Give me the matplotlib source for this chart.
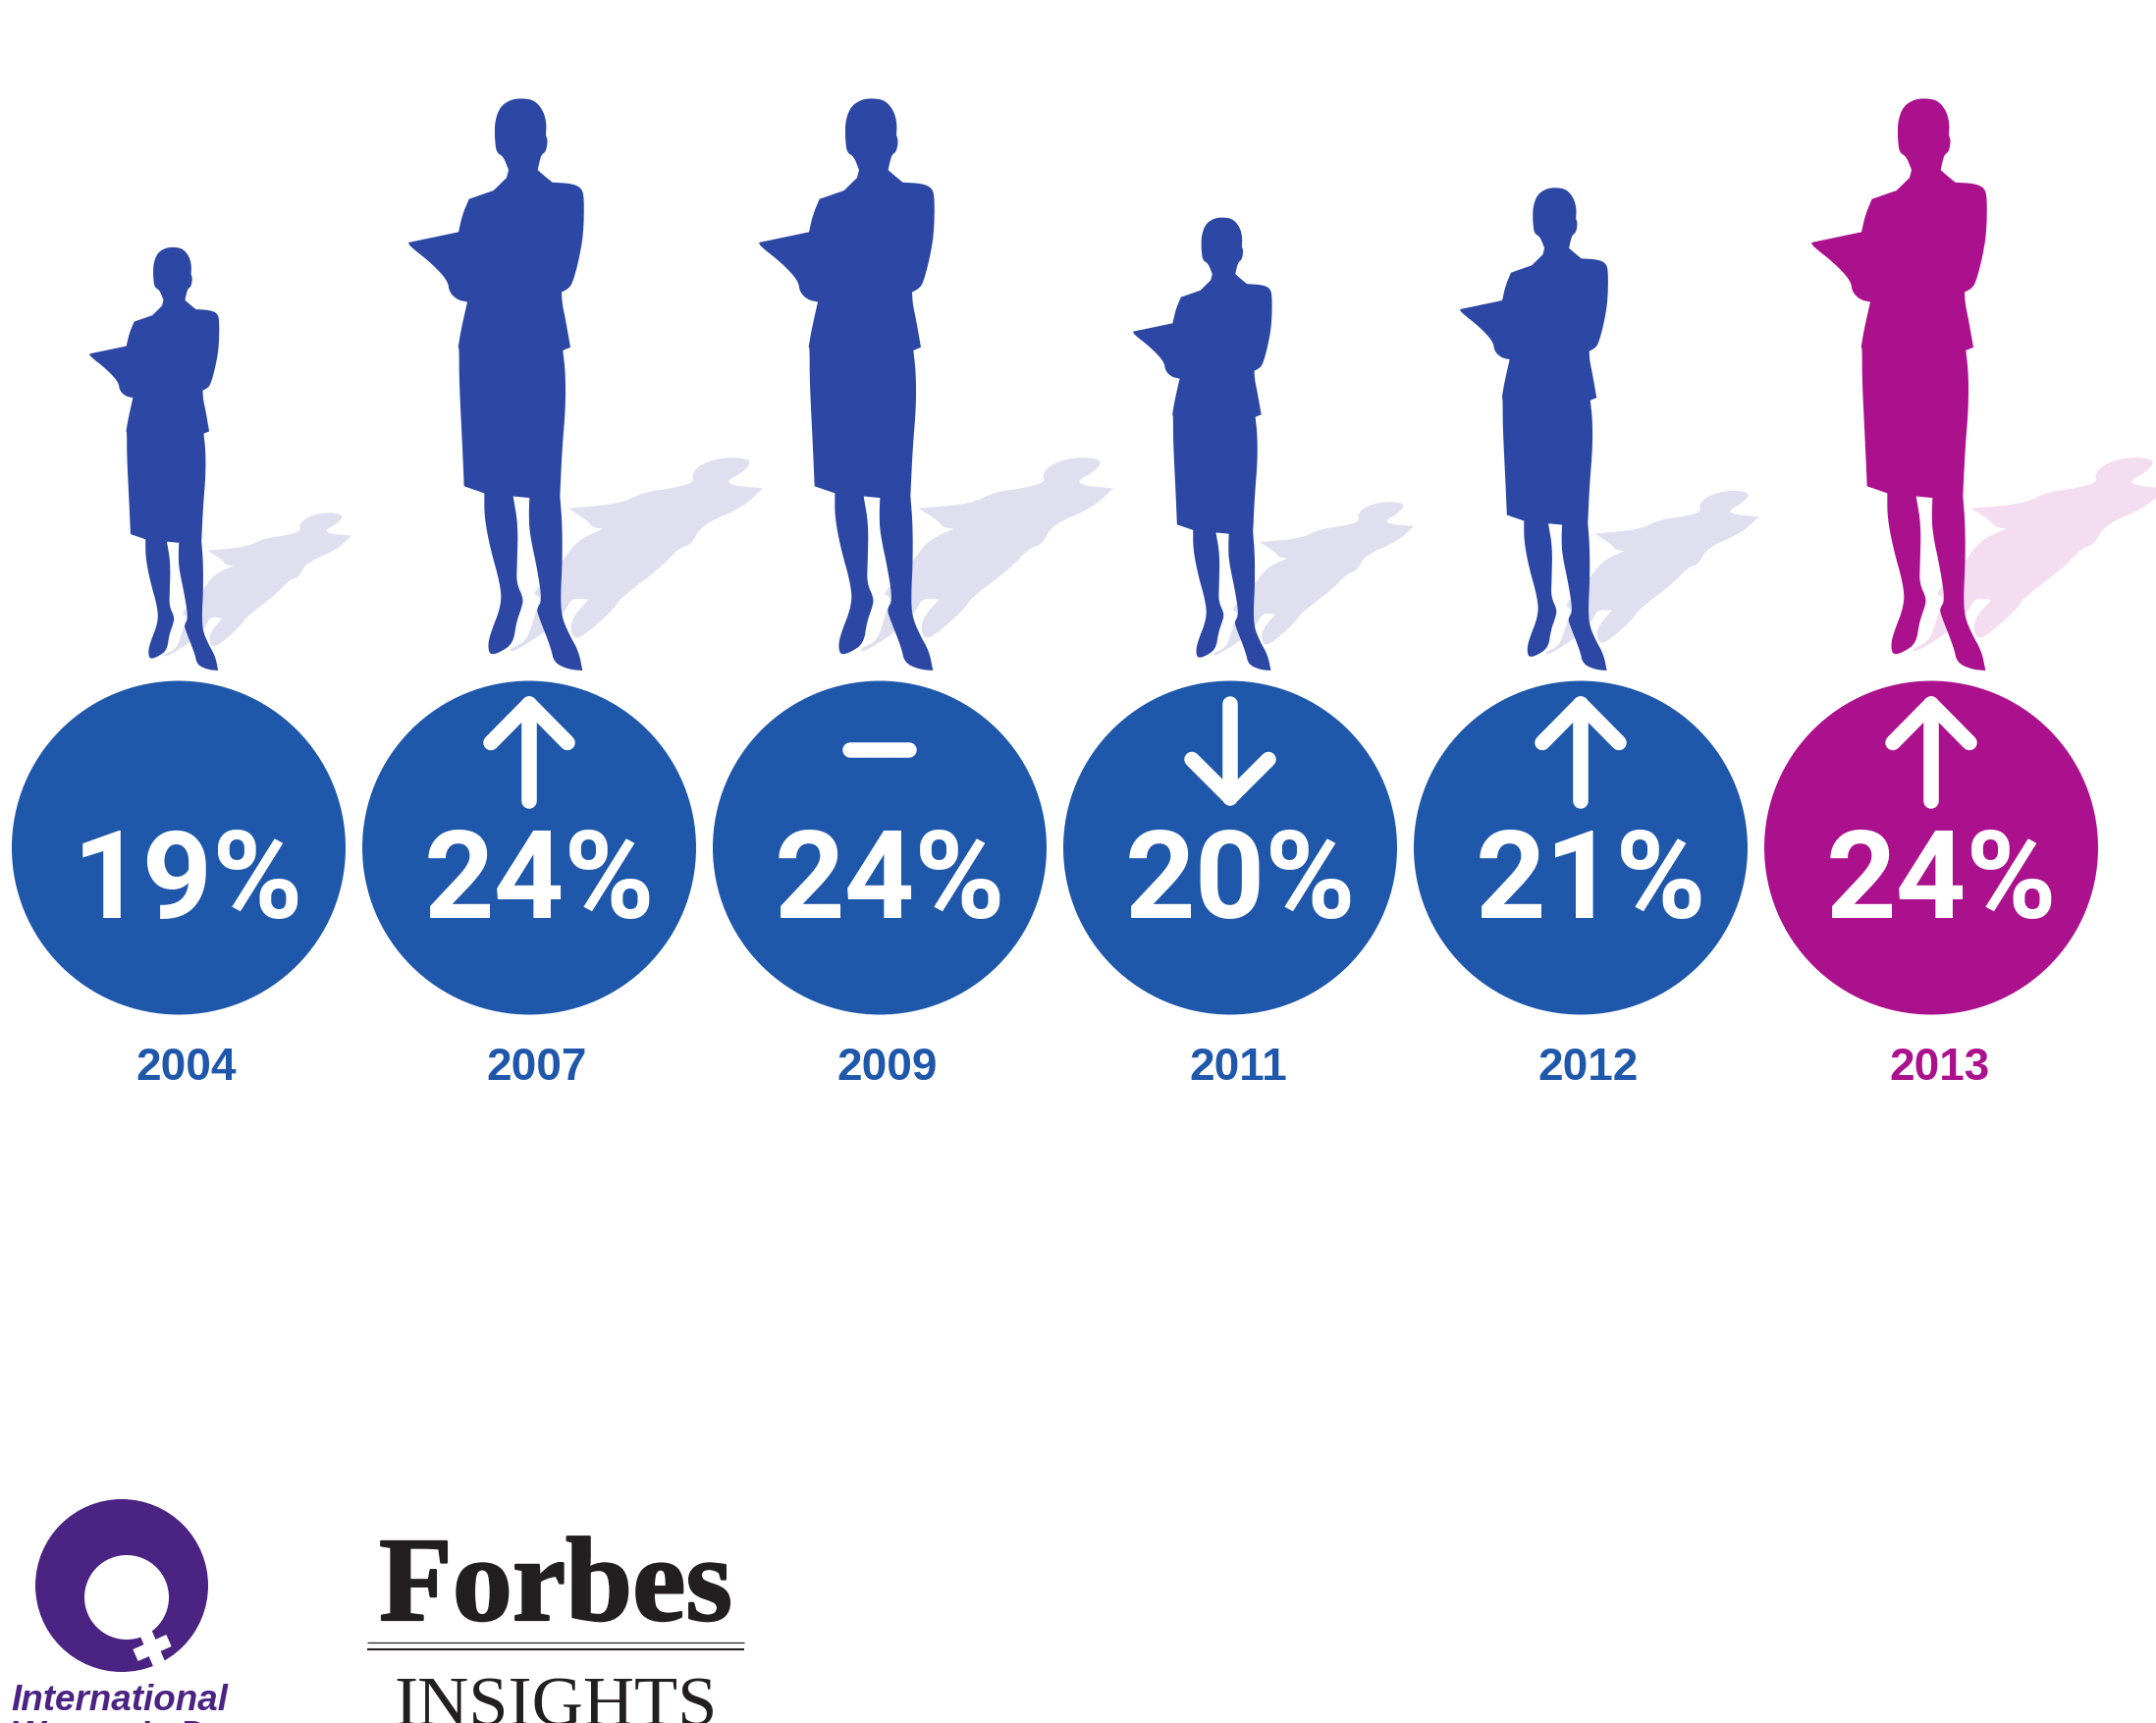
import numpy as np
import matplotlib
matplotlib.use('Agg')
import matplotlib.pyplot as plt
from matplotlib.patches import Circle, Polygon
import matplotlib.patheffects as pe

years = ['2004', '2007', '2009', '2011', '2012', '2013']
percents = [19, 24, 24, 20, 21, 24]

BLUE = '#1f58ab'
FIGURE_BLUE = '#2c47a4'
SHADOW_BLUE = '#dfdff0'
MAGENTA = '#ab118d'
SHADOW_MAGENTA = '#f4ddf0'
PURPLE = '#4b2382'
INK = '#231f20'

# circle layout in pixels, figure left edge for each year
centers_x = [182, 539, 896, 1253, 1610, 1967]
center_y = 863.5
radius = 170
figure_left = [91, 416, 773, 1154, 1487, 1845]
feet_y = 683

# woman outline, traced at 3x / 2.53x from the 2007 figure
# repeated points keep a corner sharp after smoothing
woman = np.array([
    (455, 50), (495, 55), (522, 82), (532, 115), (530, 145), (530, 145), (536, 160), (530, 188), (517, 195),
    (510, 215), (505, 235), (505, 235), (525, 250), (550, 267), (550, 267), (610, 270), (640, 282), (647, 310), (645, 400),
    (630, 470), (612, 525), (600, 540), (578, 550), (578, 550), (580, 580), (590, 620), (605, 692), (605, 692), (582, 700), (582, 700),
    (590, 760), (590, 850), (580, 950), (573, 1075), (573, 1075), (580, 1150), (580, 1250), (575, 1330), (578, 1385),
    (600, 1430), (630, 1475), (642, 1525), (642, 1525), (600, 1522), (555, 1505), (545, 1465), (505, 1380), (503, 1365),
    (518, 1345), (505, 1270), (480, 1170), (478, 1120), (480, 1080), (480, 1080), (430, 1076), (430, 1076), (445, 1150), (442, 1250),
    (440, 1300), (462, 1340), (455, 1365), (440, 1400), (430, 1455), (390, 1478), (360, 1485), (353, 1465),
    (358, 1435), (395, 1355), (390, 1300), (360, 1210), (342, 1130), (342, 1068), (342, 1068), (280, 1050), (280, 1050), (275, 950),
    (265, 780), (265, 695), (262, 692), (262, 692), (270, 650), (290, 575), (290, 575), (260, 570), (235, 550), (230, 520),
    (180, 475), (115, 432), (110, 422), (110, 422), (263, 395), (263, 395), (275, 350), (295, 310), (295, 310), (370, 288), (370, 288), (410, 255), (410, 255),
    (416, 235), (416, 235), (400, 200), (378, 190), (374, 150), (374, 150), (374, 110), (390, 72), (422, 54),
], dtype=float)

shadow = np.array([
    (598, 1107), (598, 1107), (760, 1095), (830, 1065), (920, 1055), (985, 1040), (975, 1018), (1010, 990), (1080, 975),
    (1140, 978), (1158, 990), (1130, 1015), (1080, 1037), (1110, 1050), (1193, 1055), (1193, 1055), (1130, 1105), (1005, 1150),
    (975, 1200), (935, 1210), (880, 1260), (755, 1340), (740, 1365), (640, 1440), (610, 1440), (605, 1395),
    (660, 1342), (660, 1342), (610, 1338), (590, 1370), (560, 1400), (520, 1430), (430, 1478), (415, 1470), (470, 1450),
    (490, 1400), (505, 1360), (515, 1335), (485, 1328), (575, 1250), (625, 1190), (705, 1160), (705, 1160), (670, 1155),
    (660, 1140),
], dtype=float)


def smooth(outline, rounds=2):
    # corner cutting, the traced outlines are a bit too angular otherwise
    pts = outline
    for _ in range(rounds):
        nxt = np.roll(pts, -1, axis=0)
        pts = np.column_stack([0.75 * pts + 0.25 * nxt, 0.25 * pts + 0.75 * nxt]).reshape(-1, 2)
    return pts


def to_pixels(outline, scale, left):
    # outline points -> picture pixels, feet stay on the same line
    x = (outline[:, 0] - 110) / 3 * scale + left
    y = (outline[:, 1] - 1525) / 2.53 * scale + feet_y
    return np.column_stack([x, y])


def draw_trend(ax, cx, cy, change):
    kw = dict(color='white', lw=11.2, solid_capstyle='round', solid_joinstyle='round', zorder=4)
    if change == 0:
        ax.plot([cx - 30, cx + 30], [cy - 100, cy - 100], **kw)
        return
    if change > 0:
        tip, tail, wing = cy - 146.5, cy - 48, cy - 107
    else:
        tip, tail, wing = cy - 51, cy - 147, cy - 90
    ax.plot([cx, cx], [tail, tip], **kw)
    ax.plot([cx - 39, cx, cx + 39], [wing, tip, wing], **kw)


woman_smooth = smooth(woman)
shadow_smooth = smooth(shadow)

fig = plt.figure(figsize=(21.96, 17.55), dpi=100)
ax = fig.add_axes([0, 0, 1, 1])
ax.set_xlim(0, 2196)
ax.set_ylim(1755, 0)
ax.axis('off')

for i, (year, pct) in enumerate(zip(years, percents)):
    last = i == len(years) - 1
    color = MAGENTA if last else BLUE
    body = MAGENTA if last else FIGURE_BLUE
    shade = SHADOW_MAGENTA if last else SHADOW_BLUE
    cx = centers_x[i]

    # silhouette size follows the percentage
    scale = np.interp(pct, [19, 24], [0.74, 1.0])
    ax.add_patch(Polygon(to_pixels(shadow_smooth, scale, figure_left[i]), closed=True, fc=shade, ec='none', zorder=1))
    ax.add_patch(Polygon(to_pixels(woman_smooth, scale, figure_left[i]), closed=True, fc=body, ec='none', zorder=2))

    ax.add_patch(Circle((cx, center_y), radius, fc=color, ec='none', zorder=3))
    if i > 0:
        draw_trend(ax, cx, center_y, pct - percents[i - 1])

    ax.text(cx + 10, 935, '%d%%' % pct, color='white', fontsize=90, fontweight='bold',
            family='Roboto', ha='center', va='baseline', zorder=5)
    ax.text(cx + 8, 1100, year, color=color, fontsize=33, fontweight='bold',
            family='Liberation Sans', ha='center', va='baseline', zorder=5)

# logos at the bottom
ax.add_patch(Circle((124, 1615), 88, fc=PURPLE, ec='none'))
ax.add_patch(Circle((129, 1627), 43, fc='white', ec='none'))
ax.plot([145, 163], [1655, 1697], color='white', lw=9.4, solid_capstyle='butt')
ax.plot([138, 172], [1686, 1671], color='white', lw=9.4, solid_capstyle='butt')
ax.text(11, 1742, 'International', color=PURPLE, fontsize=26.5, fontweight='bold', style='italic',
        family='Liberation Sans', ha='left', va='baseline')
ax.text(11, 1779, "Women's Day", color=PURPLE, fontsize=26.5, fontweight='bold', style='italic',
        family='Liberation Sans', ha='left', va='baseline')

ax.text(566, 1650, 'Forbes', color=INK, fontsize=88, fontweight='bold',
        family='Liberation Serif', ha='center', va='baseline',
        path_effects=[pe.withStroke(linewidth=1.6, foreground=INK)])
ax.plot([374, 758], [1673, 1673], color=INK, lw=0.9, solid_capstyle='butt')
ax.plot([374, 758], [1680, 1680], color=INK, lw=1.5, solid_capstyle='butt')
ax.text(566, 1757, 'INSIGHTS', color=INK, fontsize=52,
        family='Liberation Serif', ha='center', va='baseline')

fig.savefig('out.png', dpi=100)
